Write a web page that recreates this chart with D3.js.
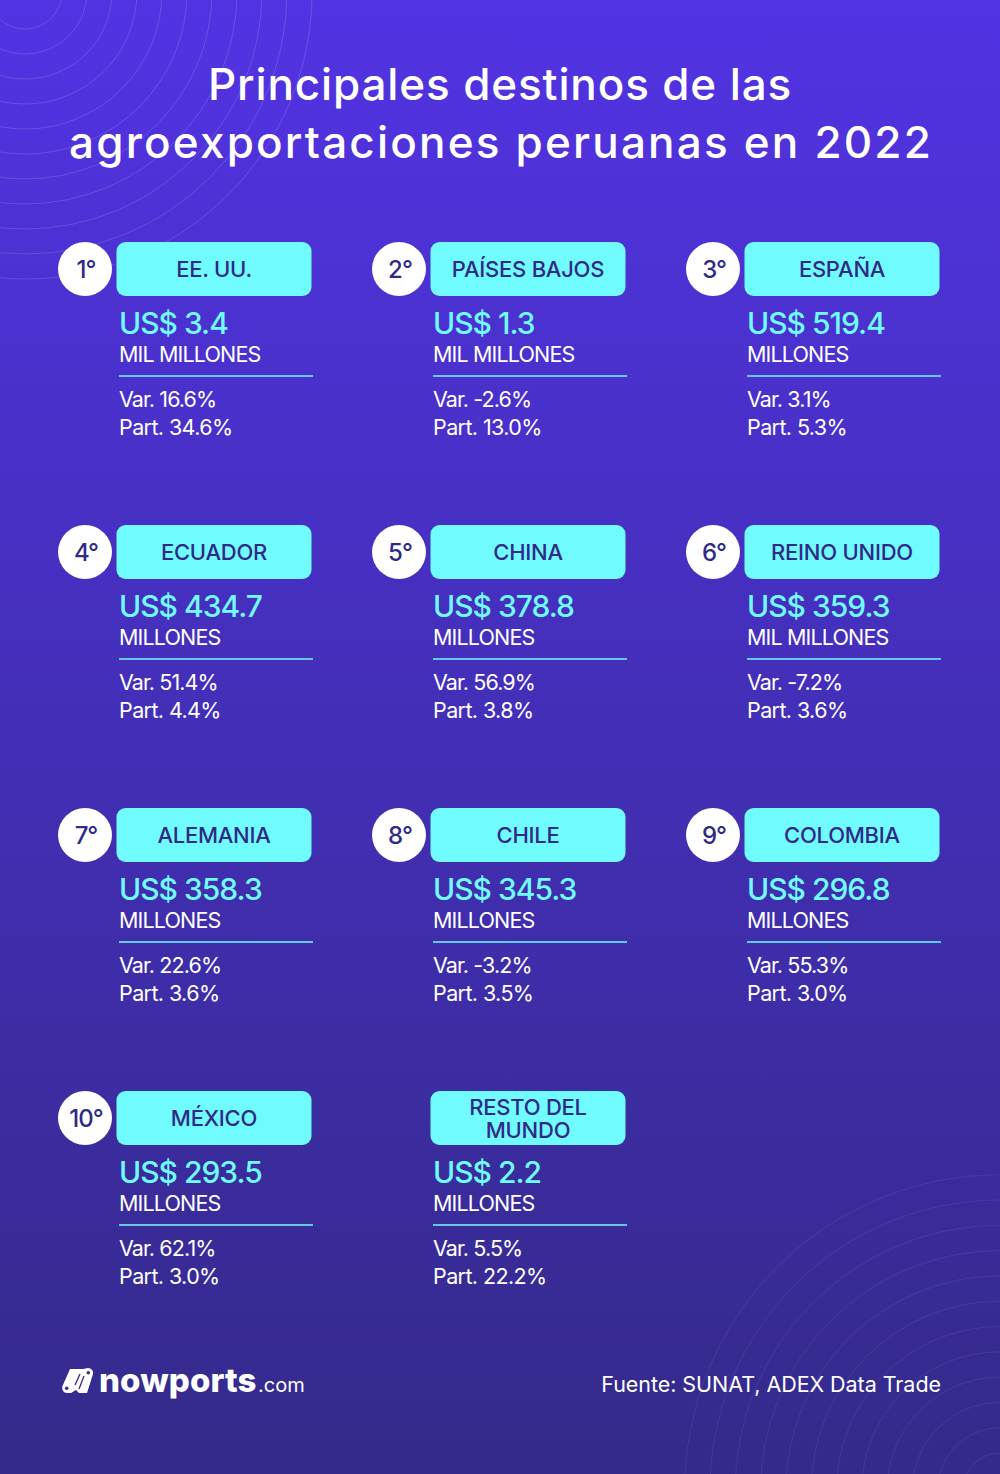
<!DOCTYPE html>
<html>
<head>
<meta charset="utf-8">
<script src="https://cdn.jsdelivr.net/npm/d3@7"></script>
<style>
  html, body { margin: 0; padding: 0; background: #3f2db5; }
  svg { display: block; font-family: Inter, sans-serif; }
</style>
</head>
<body>
<div id="chart"></div>
<script>
// Chart data
var titleLines = ["Principales destinos de las", "agroexportaciones peruanas en 2022"];
var countries = [["EE. UU."], ["PAÍSES BAJOS"], ["ESPAÑA"], ["ECUADOR"], ["CHINA"], ["REINO UNIDO"],
  ["ALEMANIA"], ["CHILE"], ["COLOMBIA"], ["MÉXICO"], ["RESTO DEL", "MUNDO"]];
var ranks = ["1°", "2°", "3°", "4°", "5°", "6°", "7°", "8°", "9°", "10°", null];
var amounts = [3.4, 1.3, 519.4, 434.7, 378.8, 359.3, 358.3, 345.3, 296.8, 293.5, 2.2];
var units = ["MIL MILLONES", "MIL MILLONES", "MILLONES", "MILLONES", "MILLONES", "MIL MILLONES",
  "MILLONES", "MILLONES", "MILLONES", "MILLONES", "MILLONES"];
var variations = [16.6, -2.6, 3.1, 51.4, 56.9, -7.2, 22.6, -3.2, 55.3, 62.1, 5.5];
var shares = [34.6, 13.0, 5.3, 4.4, 3.8, 3.6, 3.6, 3.5, 3.0, 3.0, 22.2];
var source = "Fuente: SUNAT, ADEX Data Trade";

var svgWidth = 1000;
var svgHeight = 1474;
var cyan = "#70fbff";
var navy = "#2f2a85";

var svg = d3.select("#chart")
  .append("svg")
  .attr("width", svgWidth)
  .attr("height", svgHeight);

// Background gradient
var grad = svg.append("defs").append("linearGradient")
  .attr("id", "bg")
  .attr("x1", 0).attr("y1", 0).attr("x2", 0).attr("y2", 1);
grad.append("stop").attr("offset", "0%").attr("stop-color", "#5233e3");
grad.append("stop").attr("offset", "100%").attr("stop-color", "#342a8a");

svg.append("rect")
  .attr("width", svgWidth)
  .attr("height", svgHeight)
  .attr("fill", "url(#bg)");

// Decorative rings in two corners
svg.append("g").selectAll("circle")
  .data(d3.range(11))
  .enter().append("circle")
  .attr("cx", 25).attr("cy", -8)
  .attr("r", d => 37 + d * 25)
  .attr("fill", "none")
  .attr("stroke", "#ffffff")
  .attr("stroke-opacity", 0.14);

svg.append("g").selectAll("circle")
  .data(d3.range(12))
  .enter().append("circle")
  .attr("cx", 1000).attr("cy", 1490)
  .attr("r", d => 37 + d * 25.3)
  .attr("fill", "none")
  .attr("stroke", "#ffffff")
  .attr("stroke-opacity", 0.07);

// Title
svg.append("g").selectAll("text")
  .data(titleLines)
  .enter().append("text")
  .attr("x", (d, i) => (i == 0 ? 500 : 501))
  .attr("y", (d, i) => 100 + i * 58)
  .attr("text-anchor", "middle")
  .attr("fill", "#fff")
  .attr("font-size", 44)
  .attr("font-weight", 500)
  .attr("letter-spacing", (d, i) => (i == 0 ? 0.87 : 2.2))
  .text(d => d);

// Card positions
var xScale = d3.scaleBand().domain([0, 1, 2]).range([58, 58 + 314 * 3]);
var yScale = d3.scaleBand().domain([0, 1, 2, 3]).range([242, 242 + 283 * 4]);

var cards = svg.selectAll(".card")
  .data(countries)
  .enter().append("g")
  .attr("class", "card")
  .attr("transform", (d, i) => `translate(${xScale(i % 3)}, ${yScale(Math.floor(i / 3))})`);

cards.filter((d, i) => ranks[i] !== null).append("circle")
  .attr("cx", 27).attr("cy", 27).attr("r", 27)
  .attr("fill", "#fff");

cards.filter((d, i) => ranks[i] !== null).append("text")
  .attr("x", 28).attr("y", 36)
  .attr("text-anchor", "middle")
  .attr("fill", navy)
  .attr("font-size", 24)
  .attr("font-weight", 500)
  .attr("letter-spacing", -1)
  .text(d => ranks[countries.indexOf(d)]);

cards.append("rect")
  .attr("x", 58.5).attr("width", 195).attr("height", 54)
  .attr("rx", 9)
  .attr("fill", cyan);

cards.append("g").each(function(lines) {
  d3.select(this).selectAll("text")
    .data(lines)
    .enter().append("text")
    .attr("x", 156)
    .attr("y", (d, i) => (lines.length == 1 ? 34.5 : 23.5 + i * 23))
    .attr("text-anchor", "middle")
    .attr("fill", navy)
    .attr("font-size", 22)
    .attr("font-weight", 500)
    .attr("letter-spacing", -0.25)
    .text(d => d);
});

cards.append("text")
  .attr("x", 61).attr("y", 92)
  .attr("fill", cyan)
  .attr("font-size", 30)
  .attr("font-weight", 500)
  .attr("letter-spacing", -1)
  .text((d, i) => "US$ " + amounts[i].toFixed(1));

cards.append("text")
  .attr("x", 61).attr("y", 120)
  .attr("fill", "#fff")
  .attr("font-size", 21.5)
  .attr("letter-spacing", -0.85)
  .text((d, i) => units[i]);

cards.append("line")
  .attr("x1", 61).attr("x2", 255)
  .attr("y1", 134).attr("y2", 134)
  .attr("stroke", cyan)
  .attr("stroke-width", 1.5);

cards.append("text")
  .attr("x", 61).attr("y", 165)
  .attr("fill", "#fff")
  .attr("font-size", 21.5)
  .attr("letter-spacing", -0.9)
  .text((d, i) => "Var. " + variations[i].toFixed(1) + "%");

cards.append("text")
  .attr("x", 61).attr("y", 193)
  .attr("fill", "#fff")
  .attr("font-size", 21.5)
  .attr("letter-spacing", -0.6)
  .text((d, i) => "Part. " + shares[i].toFixed(1) + "%");

// Logo
var logoHole = "#362b8f";
var logo = svg.append("g").attr("transform", "translate(62, 1366)");
logo.append("path")
  .attr("d", "M8 3 H21 L26 2 A5 5 0 0 1 31 8 L25 27 H17 L14 24 L9 27 H5 A5 5 0 0 1 0.5 20 Z")
  .attr("fill", "#fff");
logo.append("path")
  .attr("d", "M13 19 L18 8 M17 23 L22 10")
  .attr("stroke", logoHole)
  .attr("stroke-width", 1.3)
  .attr("fill", "none");
logo.selectAll("circle")
  .data([[4.7, 22.3], [26.3, 6.7]])
  .enter().append("circle")
  .attr("cx", d => d[0]).attr("cy", d => d[1])
  .attr("r", 1.8)
  .attr("fill", logoHole);

svg.append("text")
  .attr("x", 99).attr("y", 1392)
  .attr("fill", "#fff")
  .attr("font-size", 33)
  .attr("font-weight", 800)
  .attr("letter-spacing", 0.1)
  .text("nowports");

svg.append("text")
  .attr("x", 258).attr("y", 1392)
  .attr("fill", "#fff")
  .attr("font-size", 20)
  .text(".com");

// Source
svg.append("text")
  .attr("x", 941).attr("y", 1392)
  .attr("text-anchor", "end")
  .attr("fill", "#fff")
  .attr("font-size", 21.5)
  .attr("letter-spacing", -0.05)
  .text(source);
</script>
</body>
</html>
